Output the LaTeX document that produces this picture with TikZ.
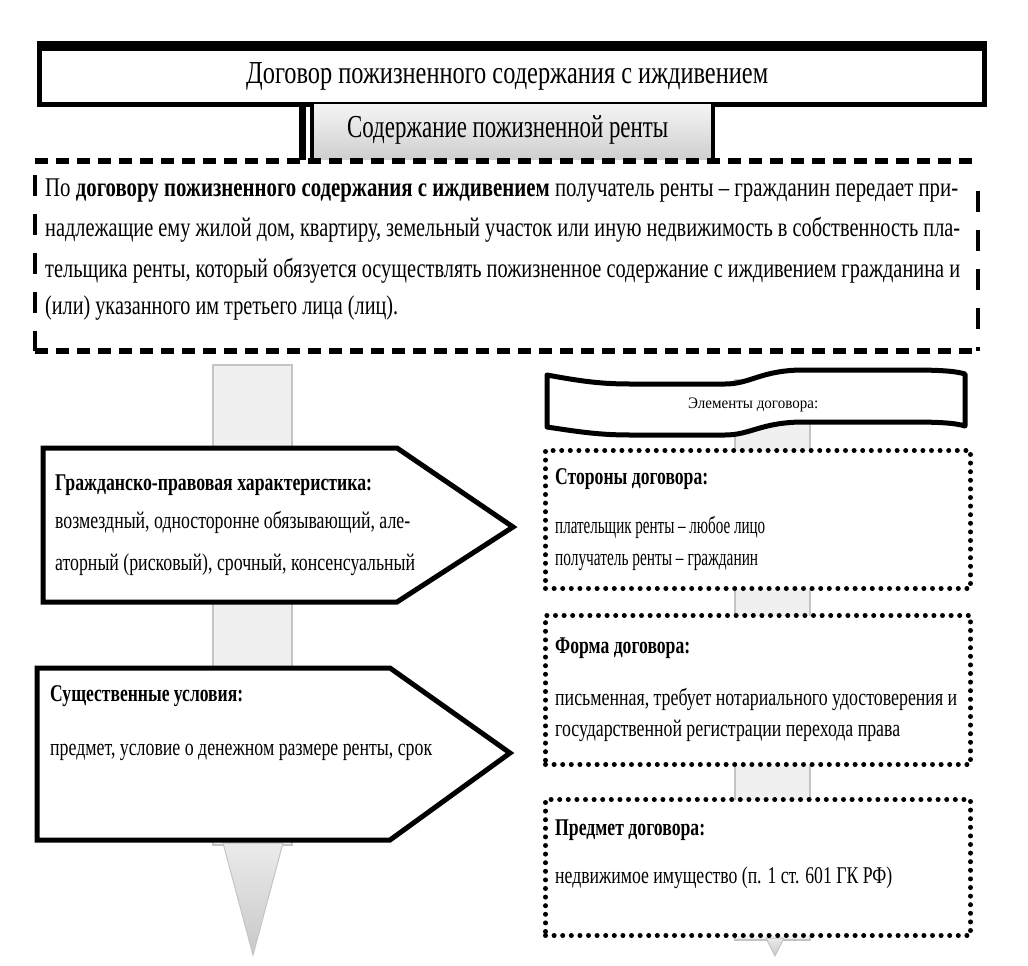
\documentclass[tikz,border=0pt]{standalone}
\usepackage{fontspec}
\setmainfont{Liberation Serif}
\usepackage{graphicx}
\newcommand{\fitw}[2]{\resizebox{#1pt}{\height}{#2}}
\definecolor{shaftfill}{HTML}{F0F0F0}
\definecolor{shaftline}{HTML}{C4C4C4}
\definecolor{tipA}{HTML}{EBEBEB}
\definecolor{tipB}{HTML}{C8C8C8}
\begin{document}
\begin{tikzpicture}[x=1pt,y=-1pt,
  txt/.style={inner sep=0pt, anchor=base west},
  big/.style={font=\fontsize{32}{32}\selectfont},
  para/.style={font=\fontsize{27}{27}\selectfont},
  boxt/.style={font=\fontsize{24}{24}\selectfont},
  small/.style={font=\fontsize{16}{16}\selectfont},
  shaft/.style={draw=shaftline, fill=shaftfill, line width=2pt},
  tip/.style={draw=shaftline, line width=1pt, top color=tipA, bottom color=tipB},
  heavy/.style={draw=black, line width=5pt, line join=miter},
  arrowbox/.style={heavy, fill=white},
  dotbox/.style={draw=black, fill=white, line width=5pt, dash pattern=on 0pt off 8.6pt, line cap=round, inner sep=0pt, anchor=north west},
  hdash/.style={draw=black, line width=6pt, dash pattern=on 13pt off 8pt},
  vdash/.style={draw=black, line width=4pt, dash pattern=on 21pt off 18pt}
]
\fill[white] (0,0) rectangle (1028,966);
\useasboundingbox (0,0) rectangle (1028,966);

% gray background arrows
\draw[shaft] (213,365) rectangle (292,845);
\draw[tip] (223,843) -- (283,843) -- (253,955) -- cycle;
\draw[shaft] (735,380) rectangle (810,940);
\draw[tip] (766,938) -- (784,938) -- (775,956) -- cycle;

% title
\node[heavy, fill=white, inner sep=0pt, minimum width=945pt, minimum height=56pt, anchor=north west] (titlebox) at (37,46) {};
\draw[black, line width=8pt] ([yshift=1pt]titlebox.north west) -- ([yshift=1pt]titlebox.north east);
\node[txt, big] (title) at (246,83) {\fitw{522}{Договор пожизненного содержания с иждивением}};

% subtitle
\fill[black] (299,104) rectangle (306,160);
\node[inner sep=0pt, minimum width=401pt, minimum height=55pt, anchor=north west, top color=gray!8, bottom color=gray!38] (subbox) at (312,104) {};
\draw[black, line width=4pt] (subbox.north west) -- (subbox.south west);
\draw[black, line width=4pt] (subbox.north east) -- (subbox.south east);
\node[txt, big] (subtitle) at (347,137) {\fitw{321}{Содержание пожизненной ренты}};

% definition dashed box
\node[inner sep=0pt, minimum width=943pt, minimum height=190pt, anchor=north west] (def) at (35,161) {};
\draw[hdash] (def.north west) -- (def.north east);
\draw[hdash] (def.south west) -- (def.south east);
\draw[vdash] ([yshift=-14pt]def.north west) -- (def.south west);
\draw[vdash] ([yshift=-30pt]def.north east) -- (def.south east);
\node[txt, para] (p1) at (45,196) {\fitw{913}{По \textbf{договору пожизненного содержания с иждивением} получатель ренты – гражданин передает при-}};
\node[txt, para] (p2) at (45,236) {\fitw{915}{надлежащие ему жилой дом, квартиру, земельный участок или иную недвижимость в собственность пла-}};
\node[txt, para] (p3) at (45,277) {\fitw{915}{тельщика ренты, который обязуется осуществлять пожизненное содержание с иждивением гражданина и}};
\node[txt, para] (p4) at (45,314) {\fitw{353}{(или) указанного им третьего лица (лиц).}};

% left pentagon 1
\draw[arrowbox] (43,448) -- (397,448) -- (513,527) -- (397,602) -- (43,602) -- cycle;
\node[txt, boxt] (c1h) at (55,490) {\fitw{317}{\textbf{Гражданско-правовая характеристика:}}};
\node[txt, boxt] (c1a) at (55,528) {\fitw{355}{возмездный, односторонне обязывающий, але-}};
\node[txt, boxt] (c1b) at (55,570) {\fitw{360}{аторный (рисковый), срочный, консенсуальный}};

% left pentagon 2
\draw[arrowbox] (37,668) -- (390,668) -- (510,753) -- (390,840) -- (37,840) -- cycle;
\node[txt, boxt] (c2h) at (50,701) {\fitw{193}{\textbf{Существенные условия:}}};
\node[txt, boxt] (c2a) at (50,755) {\fitw{382}{предмет, условие о денежном размере ренты, срок}};

% banner
\draw[heavy, fill=white, line join=round]
  (547,375) .. controls (580,381) and (600,384) .. (630,384)
  -- (725,384) .. controls (750,384) and (760,371) .. (800,370)
  -- (910,370) .. controls (940,370) and (955,371) .. (965,374)
  -- (965,426) .. controls (955,423) and (940,422) .. (910,422)
  -- (800,422) .. controls (760,423) and (750,435) .. (725,435)
  -- (630,435) .. controls (600,435) and (580,432) .. (547,427) -- cycle;
\node[txt, small] (elem) at (688,408) {\fitw{130}{Элементы договора:}};

% right dotted boxes
\node[dotbox, minimum width=425pt, minimum height=138pt] (b1) at (543,448) {};
\node[txt, boxt] (b1h) at (555,484) {\fitw{153}{\textbf{Стороны договора:}}};
\node[txt, boxt] (b1a) at (555,533) {\fitw{210}{плательщик ренты – любое лицо}};
\node[txt, boxt] (b1b) at (555,565) {\fitw{203}{получатель ренты – гражданин}};

\node[dotbox, minimum width=425pt, minimum height=149pt] (b2) at (543,613) {};
\node[txt, boxt] (b2h) at (555,653) {\fitw{135}{\textbf{Форма договора:}}};
\node[txt, boxt] (b2a) at (555,705) {\fitw{402}{письменная, требует нотариального удостоверения и}};
\node[txt, boxt] (b2b) at (555,736) {\fitw{345}{государственной регистрации перехода права}};

\node[dotbox, minimum width=425pt, minimum height=136pt] (b3) at (543,797) {};
\node[txt, boxt] (b3h) at (555,835) {\fitw{150}{\textbf{Предмет договора:}}};
\node[txt, boxt] (b3a) at (555,883) {\fitw{337}{недвижимое имущество (п. 1 ст. 601 ГК РФ)}};
\end{tikzpicture}
\end{document}
